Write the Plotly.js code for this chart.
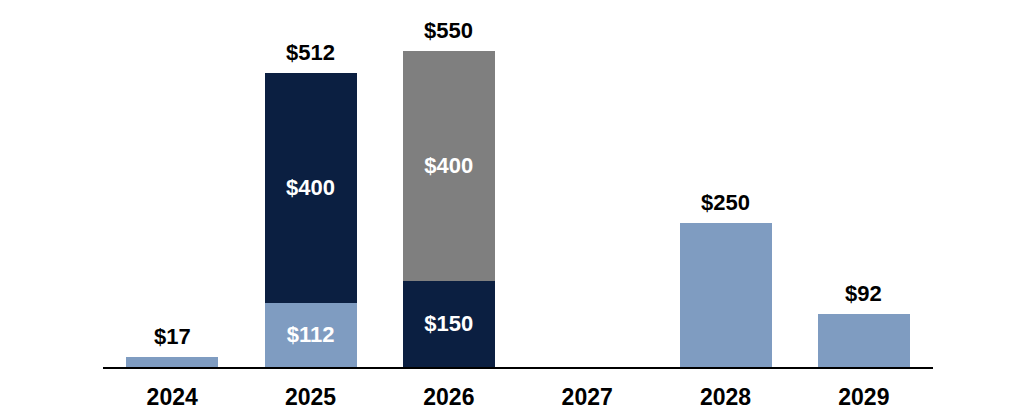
<!DOCTYPE html>
<html>
<head>
<meta charset="utf-8">
<script src="https://cdn.plot.ly/plotly-3.0.1.min.js"></script>
<style>
  html, body { margin: 0; padding: 0; background: #fff; }
  #chart { width: 1013px; height: 413px; }
</style>
</head>
<body>
<div id="chart"></div>
<script>
// ── Data ──────────────────────────────────────────────────────────────────────
const years     = ['2024', '2025', '2026', '2027', '2028', '2029'];
const lightVals = [17, 112, 0, 0, 250, 92];
const navyVals  = [0, 400, 150, 0, 0, 0];
const grayVals  = [0, 0, 400, 0, 0, 0];
const totals    = [17, 512, 550, null, 250, 92];

// inside labels only where the stack has more than one piece
const lightText = ['', '$112', '', '', '', ''];
const navyText  = ['', '$400', '$150', '', '', ''];
const grayText  = ['', '', '$400', '', '', ''];

const FONT = 'Liberation Sans, Arial, sans-serif';
const LIGHT = '#7f9cc1';
const NAVY  = '#0b1f41';
const GRAY  = '#7f7f7f';

function stackTrace(vals, text, color) {
  return {
    type: 'bar', x: years, y: vals,
    text, textposition: 'inside', insidetextanchor: 'middle',
    textangle: 0, constraintext: 'none',
    textfont: { family: FONT, size: 22, color: '#ffffff', weight: 'bold' },
    marker: { color, line: { width: 0 } },
    hoverinfo: 'skip', showlegend: false,
  };
}

const traces = [
  stackTrace(lightVals, lightText, LIGHT),
  stackTrace(navyVals,  navyText,  NAVY),
  stackTrace(grayVals,  grayText,  GRAY),
];

// Totals above each bar (x as category index: numeric-looking strings
// would otherwise be read as linear positions)
const annotations = years
  .map((yr, i) => totals[i] == null ? null : {
    x: i, y: totals[i], xref: 'x', yref: 'y',
    text: '$' + totals[i],
    showarrow: false, yanchor: 'bottom', yshift: 6,
    font: { family: FONT, size: 22, color: '#000000', weight: 'bold' },
  })
  .filter(Boolean);

const layout = {
  width: 1013, height: 413,
  margin: { l: 103, r: 80, t: 22, b: 46 },
  paper_bgcolor: '#ffffff',
  plot_bgcolor:  '#ffffff',
  barmode: 'stack',
  bargap: 0.335,
  showlegend: false,
  annotations,
  xaxis: {
    type: 'category',
    range: [-0.5, 5.5],
    showline: true, linecolor: '#000000', linewidth: 2,
    showgrid: false, zeroline: false,
    ticks: 'outside', ticklen: 8, tickcolor: 'rgba(0,0,0,0)',
    tickfont: { family: FONT, size: 23, color: '#000000', weight: 'bold' },
  },
  yaxis: {
    range: [0, 600],
    visible: false, showgrid: false, zeroline: false,
  },
};

Plotly.newPlot('chart', traces, layout, { staticPlot: true, displayModeBar: false });
</script>
</body>
</html>
